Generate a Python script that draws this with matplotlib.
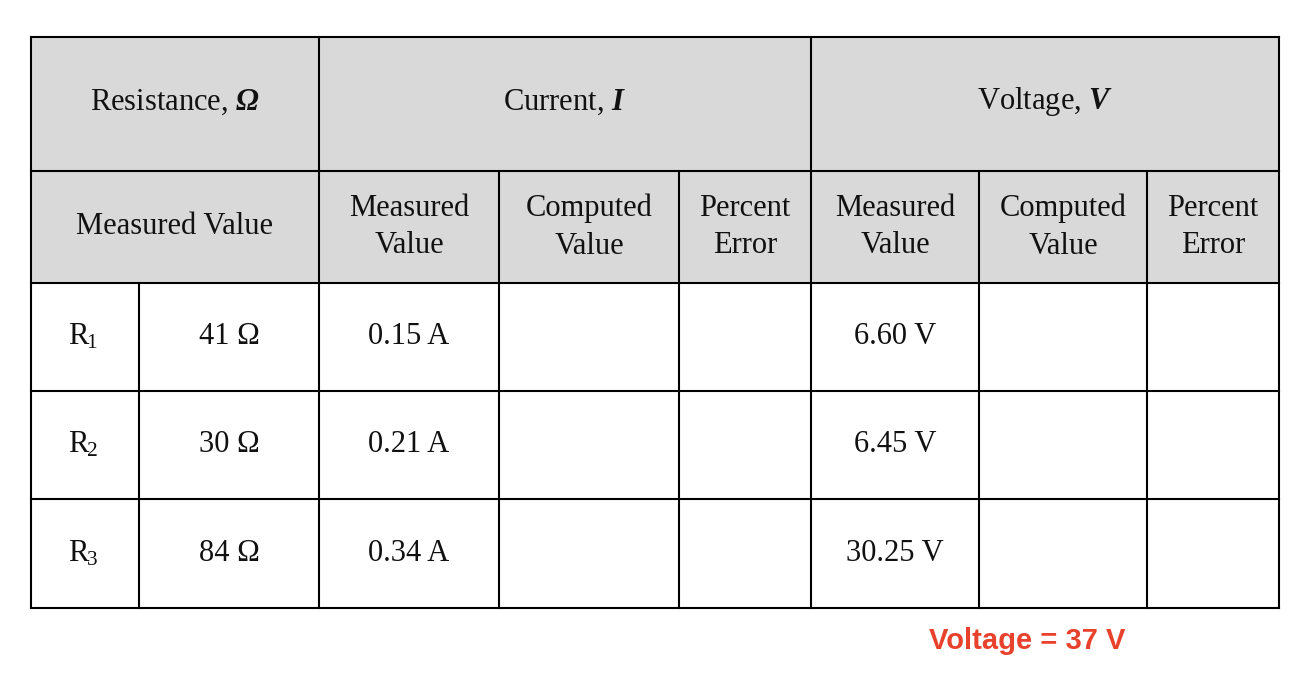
import matplotlib
matplotlib.use("Agg")
import matplotlib.pyplot as plt
from matplotlib.patches import Rectangle

plt.rcParams['mathtext.fontset'] = 'custom'
plt.rcParams['mathtext.rm'] = 'Liberation Serif'
plt.rcParams['mathtext.it'] = 'Liberation Serif:italic'
plt.rcParams['mathtext.bf'] = 'Liberation Serif:bold:italic'

group_headers = [r"Resistance, $\mathbf{\Omega}$", r"Current, $\mathbf{I}$", r"Voltage, $\mathbf{V}$"]
sub_headers = ["Measured Value", "Measured\nValue", "Computed\nValue", "Percent\nError",
               "Measured\nValue", "Computed\nValue", "Percent\nError"]
resistors = [r"R$_{\!\mathregular{1}}$", r"R$_{\!\mathregular{2}}$", r"R$_{\!\mathregular{3}}$"]
resistances = ["41 Ω", "30 Ω", "84 Ω"]
currents = ["0.15 A", "0.21 A", "0.34 A"]
voltages = ["6.60 V", "6.45 V", "30.25 V"]
note = "Voltage = 37 V"

xs = [31, 139, 319, 499, 679, 811, 979, 1147, 1279]
ys = [37, 171, 283, 391, 499, 608]

fig = plt.figure(figsize=(13.14, 6.78), dpi=100)
ax = fig.add_axes([0, 0, 1, 1])
ax.set_xlim(0, 1314); ax.set_ylim(678, 0); ax.axis('off')

gray = '#D9D9D9'
ax.add_patch(Rectangle((xs[0], ys[0]), xs[-1]-xs[0], ys[2]-ys[0], color=gray, lw=0))
lw = 1.5
kw = dict(color='black', lw=lw, solid_capstyle='projecting')
for y in ys:
    ax.plot([xs[0], xs[-1]], [y, y], **kw)
ax.plot([xs[0], xs[0]], [ys[0], ys[-1]], **kw)
ax.plot([xs[-1], xs[-1]], [ys[0], ys[-1]], **kw)
for x in [xs[2], xs[5]]:
    ax.plot([x, x], [ys[0], ys[-1]], **kw)
for x in [xs[3], xs[4], xs[6], xs[7]]:
    ax.plot([x, x], [ys[1], ys[-1]], **kw)
ax.plot([xs[1], xs[1]], [ys[2], ys[-1]], **kw)

tk = dict(family='Liberation Serif', fontsize=22, ha='center', va='center', color='#111111')
gx = [(xs[0]+xs[2])/2, (xs[2]+xs[5])/2, (xs[5]+xs[8])/2]
for x, t in zip(gx, group_headers):
    ax.text(x, (ys[0]+ys[1])/2 - 2, t, **tk)
sx = [(xs[0]+xs[2])/2] + [(xs[i]+xs[i+1])/2 for i in range(2, 8)]
for x, t in zip(sx, sub_headers):
    ax.text(x, (ys[1]+ys[2])/2, t, linespacing=1.4, **tk)
for i in range(3):
    yc = (ys[2+i]+ys[3+i])/2
    ax.text(68, yc, resistors[i], **{**tk, 'ha': 'left'})
    ax.text((xs[1]+xs[2])/2, yc, resistances[i], **tk)
    ax.text((xs[2]+xs[3])/2, yc, currents[i], **tk)
    ax.text((xs[5]+xs[6])/2, yc, voltages[i], **tk)

ax.text(1027, 641, note, family='Liberation Sans', fontweight='bold', fontsize=21,
        color='#E8412C', ha='center', va='center')
fig.savefig('out.png', dpi=100)
